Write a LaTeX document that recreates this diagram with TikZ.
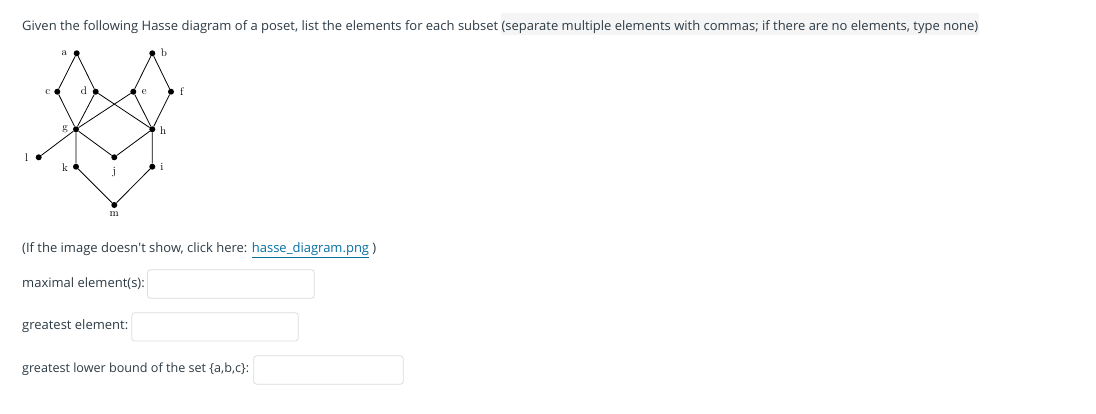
\documentclass[tikz,border=0pt]{standalone}
\usepackage{fontspec}
\setmainfont{Open Sans}
\newfontfamily\plainfont{Open Sans}
\newfontfamily\lmfont{Latin Modern Roman}
\definecolor{txt}{HTML}{2D3B45}
\definecolor{lnk}{HTML}{0770A3}
\definecolor{boxb}{HTML}{DDDDDD}
\definecolor{hl}{HTML}{F5F5F5}
\begin{document}
\begin{tikzpicture}[x=1pt,y=-1pt,
  dot/.style={circle,fill=black,inner sep=0pt,minimum size=6pt},
  lbl/.style={font=\lmfont\fontsize{11}{12}\selectfont,inner sep=0pt,anchor=center},
  edge/.style={line width=0.8pt},
  qtext/.style={anchor=base west,inner sep=0pt,text=txt,font=\fontsize{13}{15}\selectfont},
  ansbox/.style={draw=boxb,line width=0.8pt,rounded corners=3pt,fill=white}]
\useasboundingbox (0,0) rectangle (1096,414);
\fill[white] (0,0) rectangle (1096,414);
% title
\fill[hl] (500.5,13) rectangle (979,35);
\node[qtext] (title) at (22,30.5) {Given the following Hasse diagram of a poset, list the elements for each subset (separate multiple elements with commas; if there are no elements, type none)};
% Hasse diagram
\node[dot] (a) at (76.7,53.3) {};
\node[dot] (b) at (152.3,53.3) {};
\node[dot] (c) at (57.3,91.7) {};
\node[dot] (d) at (95.7,91.7) {};
\node[dot] (e) at (133.3,91.7) {};
\node[dot] (f) at (171,91.7) {};
\node[dot] (g) at (76,129.3) {};
\node[dot] (h) at (152.3,129.3) {};
\node[dot] (l) at (38.7,157.3) {};
\node[dot] (j) at (114.3,157.3) {};
\node[dot] (k) at (76,166.7) {};
\node[dot] (i) at (152.3,166.7) {};
\node[dot] (m) at (114.3,205) {};
\draw[edge] (a) -- (c) (a) -- (d) (b) -- (e) (b) -- (f)
  (c) -- (g) (d) -- (g) (d) -- (h) (e) -- (g) (e) -- (h) (f) -- (h)
  (g) -- (l) (g) -- (k) (g) -- (j) (h) -- (j) (h) -- (i)
  (k) -- (m) (i) -- (m);
\node[lbl] (la) at (64.3,53) {a};
\node[lbl] (lb) at (164,53) {b};
\node[lbl] (lc) at (47.7,91.7) {c};
\node[lbl] (ld) at (84,91.2) {d};
\node[lbl] (le) at (144.3,91.7) {e};
\node[lbl] (lf) at (181.7,91.5) {f};
\node[lbl] (lg) at (65,128.8) {g};
\node[lbl] (lh) at (163.3,130.7) {h};
\node[lbl] (ll) at (26.7,157.3) {l};
\node[lbl] (lk) at (65,167.3) {k};
\node[lbl] (lj) at (114.3,172.5) {j};
\node[lbl] (li) at (162,166.7) {i};
\node[lbl] (lm) at (114.3,214) {m};
% questions
\node[qtext] (note) at (22,252.7) {(If the image doesn{\plainfont '}t show, click here: \textcolor{lnk}{\underline{hasse\_diagram.png}} )};
\node[qtext] (q1) at (22,287.3) {maximal element(s):};
\node[qtext] (q2) at (22,329.7) {greatest element:};
\node[qtext,font=\fontsize{12.6}{15}\selectfont] (q3) at (22,372.5) {greatest lower bound of the set \{a,b,c\}:};
\path[ansbox] (147.5,269.7) rectangle (314.3,298.3);
\path[ansbox] (131.7,312.7) rectangle (298.3,341);
\path[ansbox] (253.7,355.7) rectangle (403.3,384.3);
\end{tikzpicture}
\end{document}
